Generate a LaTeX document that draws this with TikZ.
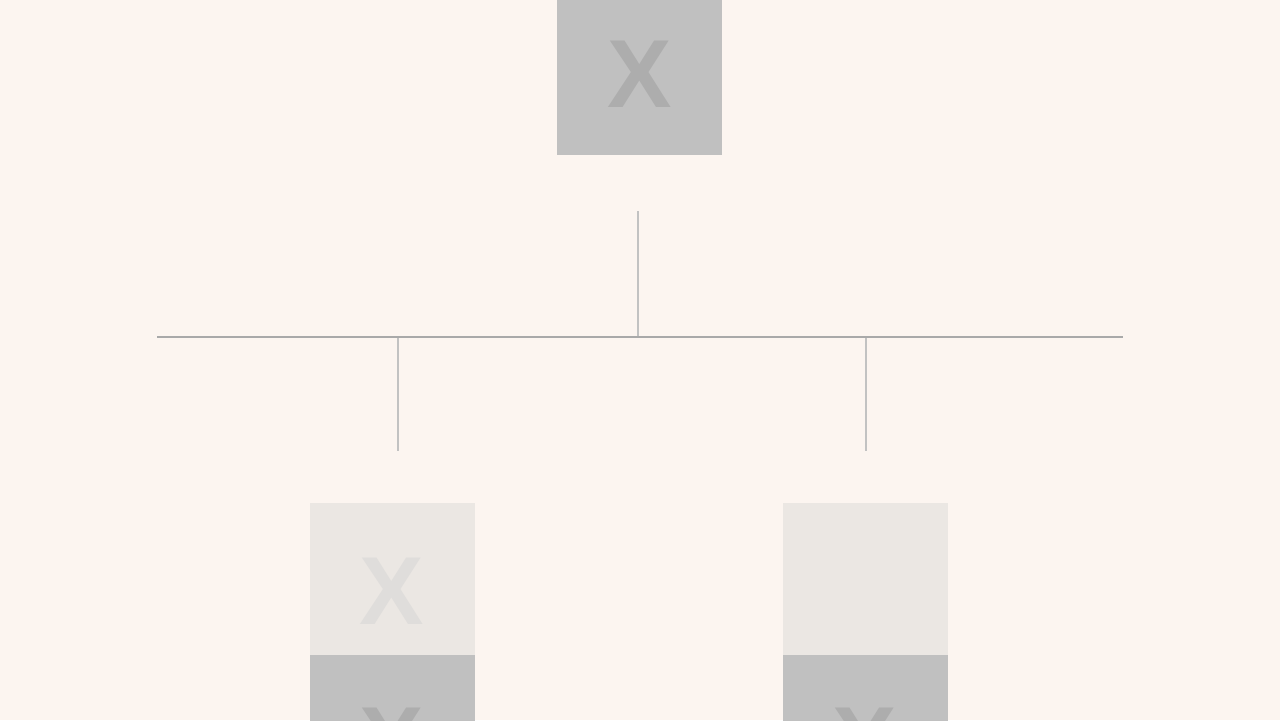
\documentclass[tikz,border=0pt]{standalone}
\usepackage{fontspec}
\setmainfont{Liberation Sans}
\definecolor{bg}{HTML}{FCF5F0}
\definecolor{darkbox}{HTML}{C0C0C0}
\definecolor{lightbox}{HTML}{EBE7E3}
\definecolor{darkx}{HTML}{ADADAD}
\definecolor{lightx}{HTML}{DFDDDB}
\definecolor{mainline}{HTML}{A9A9A9}
\definecolor{dropline}{HTML}{C2C2C2}
\begin{document}
\begin{tikzpicture}[x=0.02cm,y=-0.02cm,
  box/.style={draw=none,minimum width=165*0.02cm,minimum height=155*0.02cm,inner sep=0pt},
  darkcard/.style={box,fill=darkbox},
  lightcard/.style={box,fill=lightbox},
  mark x/.style={inner sep=0pt,text height=39.4pt,text depth=0pt,
    font=\fontsize{55}{55}\selectfont\bfseries},
  darkmark/.style={mark x,text=darkx},
  lightmark/.style={mark x,text=lightx},
  bus/.style={draw=mainline,line width=1.7pt},
  drop/.style={draw=dropline,line width=1.1pt}]
\useasboundingbox (0,0) rectangle (1280,720);
\clip (0,0) rectangle (1280,720);
\fill[bg] (0,0) rectangle (1280,720);
% top card
\node[darkcard] (top) at (639.5,77.5) {};
\node[darkmark] (topx) at (640,73) {X};
% bottom left column
\node[lightcard] (l1) at (392,580) {};
\node[lightmark] (l1x) at (392,590) {X};
\node[darkcard,anchor=north] (l2) at (392,655) {};
\node[darkmark] (l2x) at (392,740) {X};
% bottom right column
\node[lightcard] (r1) at (865,580) {};
\node[darkcard,anchor=north] (r2) at (865,655) {};
\node[darkmark] (r2x) at (865,740) {X};
% connectors
\coordinate (ts) at (638,211);
\coordinate (tj) at (638,336);
\coordinate (busL) at (157,337);
\coordinate (busR) at (1123,337);
\coordinate (ls) at (398,338);
\coordinate (le) at (398,451);
\coordinate (rs) at (866,338);
\coordinate (re) at (866,451);
\draw[drop] (ts) -- (tj);
\draw[bus] (busL) -- (busR);
\draw[drop] (ls) -- (le);
\draw[drop] (rs) -- (re);
\end{tikzpicture}
\end{document}
